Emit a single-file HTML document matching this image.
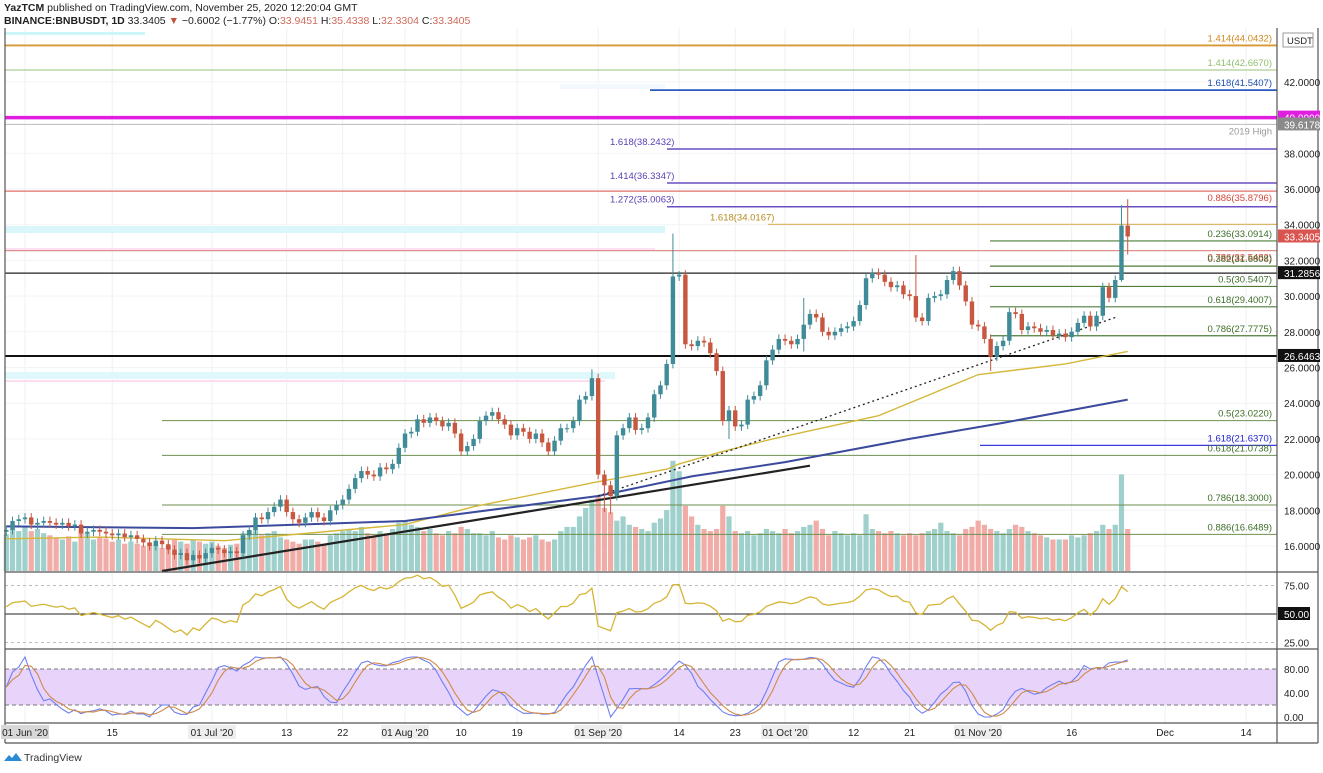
<!DOCTYPE html>
<html><head><meta charset="utf-8">
<style>
html,body{margin:0;padding:0;background:#fff;}
body{width:1323px;height:768px;overflow:hidden;font-family:"Liberation Sans",sans-serif;}
svg text{font-family:"Liberation Sans",sans-serif;}
</style></head>
<body>
<svg id="chart" width="1323" height="768" viewBox="0 0 1323 768" xmlns="http://www.w3.org/2000/svg">
<rect x="0" y="0" width="1323" height="768" fill="#fff"/>
<text x="4" y="11" font-size="10.5" fill="#222"><tspan font-weight="bold">YazTCM</tspan> published on TradingView.com, November 25, 2020 12:20:04 GMT</text>
<text x="4" y="24" font-size="10.5" fill="#222"><tspan font-weight="bold">BINANCE:BNBUSDT, 1D</tspan> 33.3405 <tspan fill="#c0553d">▼</tspan> −0.6002 (−1.77%) O:<tspan fill="#d06a5a">33.9451</tspan> H:<tspan fill="#d06a5a">35.4338</tspan> L:<tspan fill="#d06a5a">32.3304</tspan> C:<tspan fill="#d06a5a">33.3405</tspan></text>
<g id="grid"></g>
<g id="bands"></g>
<g id="vol"></g>
<g id="hlines"></g>
<g id="mas"></g>
<g id="candles"></g>
<g id="rsi"></g>
<g id="stoch"></g>
<g id="axes"></g>
<g>
<path d="M4 761 l5 -6 l3 3 l4 -5 l6 8 z" fill="#2a8ad4"/>
<text x="24" y="761" font-size="10.5" fill="#333">TradingView</text>
</g>
</svg>
<script>
// ---- data ----
const startLabel = "2020-05-29";
const closes = [16.9,17.4,17.5,
17.6,17.2,17.3,17.4,17.3,17.2,17.3,17.1,17.2,16.7,16.8,16.9,16.8,16.7,16.6,16.7,16.5,16.6,16.4,16.2,16.0,16.3,16.1,15.8,15.5,15.6,15.2,15.5,15.3,15.6,
15.9,15.8,15.6,15.7,15.6,16.6,16.9,17.6,17.5,17.9,18.2,18.6,17.9,17.5,17.3,17.6,17.9,17.6,17.4,18.0,18.3,18.6,19.2,19.8,20.2,20.0,19.9,20.4,20.3,20.6,21.5,
22.3,22.4,23.1,22.9,23.2,23.0,22.7,22.9,22.3,21.3,21.6,22.0,23.0,23.3,23.5,23.1,22.8,22.2,22.6,22.4,22.0,22.3,21.8,21.3,21.9,22.6,22.6,23.0,24.2,24.4,25.4,
20.0,19.4,18.8,22.2,22.6,23.2,22.5,22.6,23.2,24.5,25.0,26.2,31.1,31.2,27.3,27.2,27.5,27.4,26.8,25.8,23.0,23.6,22.7,22.8,24.2,24.4,25.0,26.4,27.0,27.6,
27.5,27.3,27.6,28.4,29.0,28.8,28.0,27.8,28.0,28.2,28.3,28.6,29.5,31.0,31.3,31.2,30.8,30.5,30.6,30.1,30.0,28.8,28.6,29.9,30.0,30.1,30.9,31.4,30.6,29.7,28.4,
28.3,27.6,26.6,27.2,27.5,29.1,29.0,28.1,28.3,28.2,28.0,28.1,27.8,27.9,27.7,28.0,28.5,28.9,28.3,28.9,30.5,29.9,30.9,33.95,33.34];
const firstOpen = 16.8;
const wickHigh = {94:25.9,107:33.5,108:31.4,179:35.1,180:35.43,146:32.3,128:29.9};
const wickLow = {96:17.9,97:17.8,116:22.0,158:25.8,179:30.8,180:32.33,128:26.9};
const volumes = [35,40,38,
42,38,40,36,34,32,30,33,28,40,36,30,32,31,28,30,26,28,26,24,27,25,22,24,30,28,26,30,28,26,
28,24,22,25,26,36,38,40,34,36,38,32,30,28,26,30,30,28,26,34,36,38,40,38,42,36,34,38,36,40,46,
48,44,42,38,40,36,34,38,36,42,40,36,36,34,38,32,30,34,32,30,32,34,30,28,30,38,42,42,52,60,68,
72,60,56,48,52,44,42,40,38,46,50,58,105,95,62,52,44,40,38,40,62,52,38,36,38,34,36,40,38,36,
40,36,38,42,44,48,40,34,38,36,34,36,34,54,40,38,36,38,36,34,36,34,36,38,40,46,38,36,34,40,42,
48,44,40,38,36,40,44,42,38,36,34,32,30,30,30,34,32,34,36,38,44,40,44,92,40];
// moving averages sampled: [dayIndex, price]
const maFastDays = [0,15,35,64,75,95,106,108,115,123,140,156,170,180];
const maFastVals = [16.4,16.5,16.3,17.2,18.2,19.6,20.3,20.6,21.3,22.0,23.3,25.6,26.2,26.9];
const maSlowDays = [0,30,64,95,110,125,145,160,180];
const maSlowVals = [17.1,17.0,17.4,18.8,19.9,20.7,22.0,22.9,24.2];
const trendDays = [25,129]; const trendVals = [14.6,20.5];
const dotDays = [95,178]; const dotVals = [18.8,28.8];
// horizontal levels
const levelPrices = [44.0432,42.6670,41.5407,40.0,39.6178,38.2432,36.3347,35.8796,35.0063,34.0167,33.0914,32.5482,31.6808,31.2856,30.5407,29.4007,27.7775,26.6463,23.0220,21.6370,21.0738,18.3000,16.6489];
const levelLabels = ["1.414(44.0432)","1.414(42.6670)","1.618(41.5407)","","2019 High","1.618(38.2432)","1.414(36.3347)","0.886(35.8796)","1.272(35.0063)","1.618(34.0167)","0.236(33.0914)","0.786(32.5482)","0.382(31.6808)","","0.5(30.5407)","0.618(29.4007)","0.786(27.7775)","","0.5(23.0220)","1.618(21.6370)","0.618(21.0738)","0.786(18.3000)","0.886(16.6489)"];
const priceTicks = [16,18,20,22,24,26,28,30,32,34,36,38,42];
const dateLabels = ["01 Jun '20","15","01 Jul '20","13","22","01 Aug '20","10","19","01 Sep '20","14","23","01 Oct '20","12","21","01 Nov '20","16","Dec","14"];
const dateIdx = [3,17,33,45,54,64,73,82,95,108,117,125,136,145,156,171,186,199];

// ---- scales ----
const NS="http://www.w3.org/2000/svg";
const X0=5, PLOT_R=1277;
function xs(i){return 6.31+i*6.23;}
function ys(p){return 546-(p-16)*17.85;}
function yr(v){return 614-(v-50)*1.14;}
function yst(v){return 717-v*0.6;}
function mk(tag,attrs,parent){const e=document.createElementNS(NS,tag);for(const k in attrs)e.setAttribute(k,attrs[k]);document.getElementById(parent).appendChild(e);return e;}

// grid
dateIdx.forEach(function(d){
  const l=mk('line',{x1:xs(d),x2:xs(d),y1:28,y2:723,stroke:'#eef0f3','stroke-width':1},'grid');
  
  
});
priceTicks.forEach(function(p){
  const l=mk('line',{x1:X0,x2:PLOT_R,y1:ys(p),y2:ys(p),stroke:'#f1f3f6','stroke-width':1},'grid');
  
  
});
// faint ghost bands
[[5,32,140,3,'#cdf6fb'],[5,226,660,7,'#d9f7fb'],[5,248,650,3,'#fde0f3'],[5,372,610,7,'#dff8fb'],[5,380,600,2,'#fcdcf0'],[560,84,105,5,'#f3f8ff']].forEach(function(b){
  const r=mk('rect',{x:b[0],y:b[1],width:b[2],height:b[3],fill:b[4]},'bands');
  
  
});

// volume
for(let i=0;i<closes.length;i++){
  const o=i===0?firstOpen:closes[i-1];
  const up=closes[i]>=o;
  const h=volumes[i]*1.05;
  const r=mk('rect',{x:xs(i)-2.6,y:571-h,width:5.2,height:h,fill:up?'#9fd0cb':'#f2aca7'},'vol');
  
  
}

// levels
const levelStyle=[['#d79a32',0,1.8],['#98c27e',0,1],['#2a5bbf',650,1.8],['#e01ee0',0,3.5],['#bbbbbb',0,1],['#6a4fc4',667,1.5],['#6a4fc4',667,1.5],['#e0706a',0,1.3],['#6a4fc4',667,1.5],['#d9b86a',768,1.2],['#4e7d3a',990,1.2],['#e0908a',0,1.2],['#4e7d3a',990,1.2],['#222',0,1.2],['#4e7d3a',990,1.2],['#4e7d3a',990,1.2],['#4e7d3a',990,1.2],['#111',0,2],['#6e8f4f',162,1],['#3a3adf',980,1.2],['#6e8f4f',162,1],['#6e8f4f',162,1],['#6e8f4f',162,1]];
const labelColor=['#d08a20','#8fbf6e','#1f4fb0','','#999','#5a3fb4','#5a3fb4','#d9453a','#5a3fb4','#b58a20','#3f6e2a','#d9453a','#3f6e2a','','#3f6e2a','#3f6e2a','#3f6e2a','','#3f6e2a','#1f1fcf','#3f6e2a','#3f6e2a','#3f6e2a'];
const leftLabel={5:610,6:610,8:610,9:710};
const belowLabel={4:1,7:1,11:1};
levelPrices.forEach(function(p,k){
  const s=levelStyle[k];
  const l=mk('line',{x1:s[1]||X0,x2:PLOT_R,y1:ys(p),y2:ys(p),stroke:s[0],'stroke-width':s[2]},'hlines');
  
  
  if(levelLabels[k]){
    let t;
    const ty=belowLabel[k]?ys(p)+10:ys(p)-4;
    if(leftLabel[k]!==undefined){t=mk('text',{x:leftLabel[k],y:ty,'font-size':9.5,fill:labelColor[k]},'hlines');}
    else{t=mk('text',{x:1272,y:ty,'font-size':9.5,fill:labelColor[k],'text-anchor':'end'},'hlines');}
    t.textContent=levelLabels[k];
    
    
  }
});

// moving averages & trendlines
function poly(days,vals,color,w,dash,name){
  const pts=days.map(function(d,i){return xs(d)+','+ys(vals[i]);}).join(' ');
  const a={points:pts,fill:'none',stroke:color,'stroke-width':w};
  if(dash)a['stroke-dasharray']=dash;
  const e=mk('polyline',a,'mas');
  
  
}
poly(maFastDays,maFastVals,'#d4b83a',1.4,null,'ma-fast-line');
poly(maSlowDays,maSlowVals,'#3b4a9c',2,null,'ma-slow-line');
poly(trendDays,trendVals,'#222',2.2,null,'support-trendline');
poly(dotDays,dotVals,'#222',1.3,'2,3','dotted-trendline');

// candles
for(let i=0;i<closes.length;i++){
  const o=i===0?firstOpen:closes[i-1];
  const c=closes[i];
  const up=c>=o;
  const hi=wickHigh[i]!==undefined?wickHigh[i]:Math.max(o,c)+0.25;
  const lo=wickLow[i]!==undefined?wickLow[i]:Math.min(o,c)-0.25;
  const col=up?'#3f8b97':'#c7573f';
  const w=mk('line',{x1:xs(i),x2:xs(i),y1:ys(hi),y2:ys(lo),stroke:col,'stroke-width':1},'candles');
  
  
  const top=ys(Math.max(o,c)),bh=Math.max(1,Math.abs(ys(o)-ys(c)));
  const b=mk('rect',{x:xs(i)-2.2,y:top,width:4.4,height:bh,fill:col},'candles');
  
  
}

// RSI (14, Wilder) from closes
const rsiVals=[];
(function(){let ag=0,al=0;for(let i=0;i<closes.length;i++){const ch=i===0?closes[0]-firstOpen:closes[i]-closes[i-1];const g=Math.max(ch,0),l=Math.max(-ch,0);if(i===0){ag=0.25;al=0.2;}ag=(ag*13+g)/14;al=(al*13+l)/14;rsiVals.push(100-100/(1+ag/(al||1e-6)));}})();
[[75,'3,3','#bbb'],[50,null,'#222'],[25,'3,3','#bbb']].forEach(function(r){
  const a={x1:X0,x2:PLOT_R,y1:yr(r[0]),y2:yr(r[0]),stroke:r[2],'stroke-width':1};
  if(r[1])a['stroke-dasharray']=r[1];
  const l=mk('line',a,'rsi');
  
  
});
const rl=mk('polyline',{points:rsiVals.map(function(v,i){return xs(i)+','+yr(v);}).join(' '),fill:'none',stroke:'#d6b535','stroke-width':1.3},'rsi');



// Stoch RSI
const band=mk('rect',{x:X0,y:yst(80),width:PLOT_R-X0,height:yst(20)-yst(80),fill:'#e8d4fb'},'stoch');


[80,20].forEach(function(v){
  const l=mk('line',{x1:X0,x2:PLOT_R,y1:yst(v),y2:yst(v),stroke:'#777','stroke-width':1,'stroke-dasharray':'4,3'},'stoch');
  
  
});
const st=[];for(let i=0;i<rsiVals.length;i++){const s=rsiVals.slice(Math.max(0,i-13),i+1);const mn=Math.min.apply(null,s),mx=Math.max.apply(null,s);st.push(mx-mn<1e-6?50:(rsiVals[i]-mn)/(mx-mn)*100);}
function sma(a,n){return a.map(function(v,i){const s=a.slice(Math.max(0,i-n+1),i+1);return s.reduce(function(x,y){return x+y;},0)/s.length;});}
const kV=sma(st,3),dV=sma(kV,3);
const kl=mk('polyline',{points:kV.map(function(v,i){return xs(i)+','+yst(v);}).join(' '),fill:'none',stroke:'#6f7ff0','stroke-width':1.1},'stoch');


const dl=mk('polyline',{points:dV.map(function(v,i){return xs(i)+','+yst(v);}).join(' '),fill:'none',stroke:'#d08a4a','stroke-width':1.1},'stoch');



// frame & axes
[[X0,28,X0,743],[PLOT_R,28,PLOT_R,743],[X0,572,1318,572],[X0,649,1318,649],[X0,723,1318,723],[X0,743,1318,743],[1318,28,1318,743]].forEach(function(s){
  const l=mk('line',{x1:s[0],y1:s[1],x2:s[2],y2:s[3],stroke:'#555','stroke-width':1.2},'axes');
  
  
});
priceTicks.forEach(function(p){
  const t=mk('text',{x:1284,y:ys(p)+4,'font-size':10,fill:'#222'},'axes');
  t.textContent=p.toFixed(4);
  
  
});
[['40.0000',40,'#e01ee0'],['39.6178',39.6178,'#8a8a8a'],['33.3405',33.3405,'#d9534f'],['31.2856',31.2856,'#111'],['26.6463',26.6463,'#111']].forEach(function(b){
  const r=mk('rect',{x:1278,y:ys(b[1])-7,width:42,height:13,fill:b[2]},'axes');
  
  
  const t=mk('text',{x:1284,y:ys(b[1])+4,'font-size':10,fill:'#fff'},'axes');
  t.textContent=b[0];
  
  
});
const ub=mk('rect',{x:1283,y:33,width:30,height:14,fill:'#fff',stroke:'#999'},'axes');


const ut=mk('text',{x:1287,y:44,'font-size':9.5,fill:'#222'},'axes');ut.textContent='USDT';


[[75,'75.00','#222',null],[50,'50.00','#fff','#111'],[25,'25.00','#222',null]].forEach(function(r){
  if(r[3]){const b=mk('rect',{x:1278,y:yr(r[0])-7,width:32,height:13,fill:r[3]},'axes');}
  const t=mk('text',{x:1284,y:yr(r[0])+4,'font-size':10,fill:r[2]},'axes');t.textContent=r[1];
  
  
});
[[80,'80.00'],[40,'40.00'],[0,'0.00']].forEach(function(r){
  const t=mk('text',{x:1284,y:yst(r[0])+4,'font-size':10,fill:'#222'},'axes');t.textContent=r[1];
  
  
});
dateLabels.forEach(function(s,k){
  const x=xs(dateIdx[k]);
  if(s.indexOf("'")>0){const r=mk('rect',{x:x-24,y:725,width:48,height:14,fill:k===0?'#d8d8d8':'#eeeeee'},'axes');}
  const t=mk('text',{x:x,y:736,'font-size':10,fill:'#222','text-anchor':'middle'},'axes');t.textContent=s;
  
  
});
</script>
</body></html>
